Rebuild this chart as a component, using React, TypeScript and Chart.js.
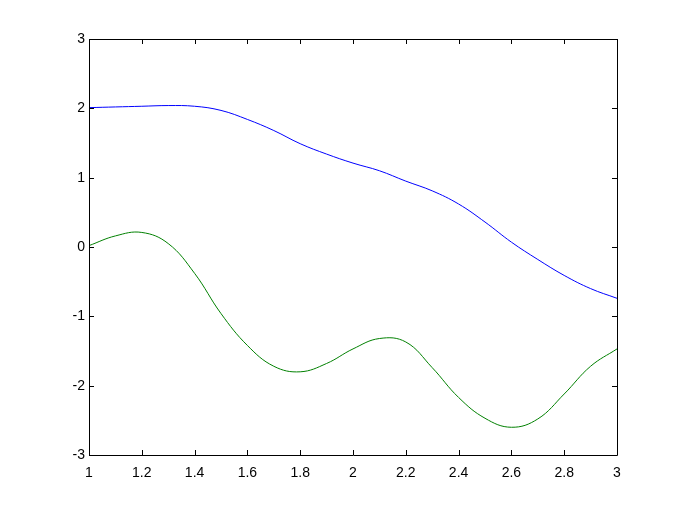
import React, { useEffect, useRef } from "react";
import { Chart, registerables } from "chart.js";

Chart.register(...registerables);

const xValues = [1.0, 1.1, 1.2, 1.3, 1.4, 1.5, 1.6, 1.7, 1.8, 1.9, 2.0, 2.1, 2.2, 2.3, 2.4, 2.5, 2.6, 2.7, 2.8, 2.9, 3.0];
const blueSeries = [2.01, 2.02, 2.03, 2.04, 2.03, 1.97, 1.84, 1.68, 1.49, 1.34, 1.21, 1.1, 0.95, 0.81, 0.62, 0.36, 0.07, -0.18, -0.41, -0.6, -0.74];
const greenSeries = [0.02, 0.16, 0.21, 0.05, -0.38, -0.96, -1.42, -1.72, -1.8, -1.68, -1.47, -1.32, -1.37, -1.74, -2.17, -2.47, -2.6, -2.48, -2.12, -1.72, -1.47];

const xMin = 1;
const xMax = 3;
const xStep = 0.2;
const yMin = -3;
const yMax = 3;
const yStep = 1;

const framePlugin = {
  id: "frameTicks",
  afterDraw(chart: any) {
    const { ctx, chartArea } = chart;
    const { left, right, top, bottom } = chartArea;
    const xs = chart.scales.x;
    const ys = chart.scales.y;
    ctx.save();
    ctx.strokeStyle = "#000";
    ctx.lineWidth = 1;
    ctx.beginPath();
    ctx.rect(Math.round(left) + 0.5, Math.round(top) + 0.5, Math.round(right - left), Math.round(bottom - top));
    ctx.stroke();
    const tl = 5;
    ctx.beginPath();
    xs.ticks.forEach((t: any) => {
      const px = Math.round(xs.getPixelForValue(t.value)) + 0.5;
      ctx.moveTo(px, bottom);
      ctx.lineTo(px, bottom - tl);
      ctx.moveTo(px, top);
      ctx.lineTo(px, top + tl);
    });
    ys.ticks.forEach((t: any) => {
      const py = Math.round(ys.getPixelForValue(t.value)) + 0.5;
      ctx.moveTo(left, py);
      ctx.lineTo(left + tl, py);
      ctx.moveTo(right, py);
      ctx.lineTo(right - tl, py);
    });
    ctx.stroke();
    ctx.restore();
  },
};

export default function App() {
  const ref = useRef<HTMLCanvasElement | null>(null);
  useEffect(() => {
    if (!ref.current) return;
    const font = { family: "'Liberation Sans', Arial, sans-serif", size: 14 };
    const chart = new Chart(ref.current, {
      type: "line",
      data: {
        datasets: [
          {
            data: xValues.map((x, i) => ({ x, y: blueSeries[i] })),
            borderColor: "#0000ff",
            borderWidth: 1,
            pointRadius: 0,
            tension: 0.4,
            fill: false,
          },
          {
            data: xValues.map((x, i) => ({ x, y: greenSeries[i] })),
            borderColor: "#008000",
            borderWidth: 1,
            pointRadius: 0,
            tension: 0.4,
            fill: false,
          },
        ],
      },
      options: {
        responsive: false,
        animation: false,
        layout: { padding: { top: 39, right: 65, left: 0, bottom: 0 } },
        plugins: { legend: { display: false }, tooltip: { enabled: false } },
        scales: {
          x: {
            type: "linear",
            min: xMin,
            max: xMax,
            grid: { display: false, drawTicks: false },
            border: { display: false },
            ticks: {
              stepSize: xStep,
              color: "#000",
              font,
              padding: 10,
              maxRotation: 0,
              autoSkip: false,
              callback: (v: any) => String(Math.round(Number(v) * 10) / 10),
            },
            afterFit(scale: any) {
              scale.height = 56;
            },
          },
          y: {
            type: "linear",
            min: yMin,
            max: yMax,
            grid: { display: false, drawTicks: false },
            border: { display: false },
            ticks: {
              stepSize: yStep,
              color: "#000",
              font,
              padding: 4,
              callback: (v: any) => String(Math.round(Number(v))),
            },
            afterFit(scale: any) {
              scale.width = 89;
            },
          },
        },
      },
      plugins: [framePlugin],
    });
    return () => chart.destroy();
  }, []);
  return (
    <div style={{ position: "absolute", left: 0, top: 0, width: 682, height: 511, background: "#fff" }}>
      <canvas ref={ref} width={682} height={511} />
    </div>
  );
}
